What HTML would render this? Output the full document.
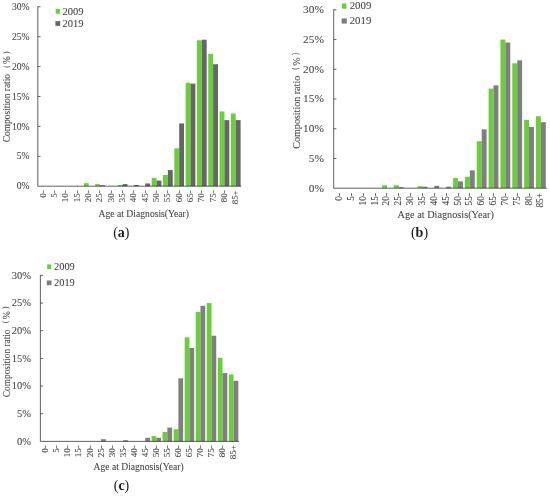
<!DOCTYPE html>
<html><head><meta charset="utf-8"><title>Figure</title>
<style>
html,body{margin:0;padding:0;background:#fff}
svg{display:block}
text{font-family:"Liberation Serif","Noto Serif CJK SC",serif;fill:#454545;stroke:#454545;stroke-width:0.08px}
.fw{font-family:"Liberation Serif","WenQuanYi Zen Hei","Noto Sans CJK SC",serif}
.cap{font-family:"Liberation Serif",serif;fill:#1a1a1a;stroke:none}
</style></head><body>
<svg width="550" height="497" viewBox="0 0 550 497">
<defs><filter id="soft" x="0" y="0" width="550" height="497" filterUnits="userSpaceOnUse"><feGaussianBlur stdDeviation="0.28"/></filter></defs>
<rect width="550" height="497" fill="#fff"/>
<g filter="url(#soft)">
<g id="chart-a">
<rect x="83.84" y="183.21" width="4.86" height="2.99" fill="#69cf37"/>
<rect x="95.15" y="184.11" width="4.86" height="2.09" fill="#69cf37"/>
<rect x="100.01" y="185.18" width="4.86" height="1.02" fill="#666666"/>
<rect x="117.77" y="185.00" width="4.86" height="1.20" fill="#69cf37"/>
<rect x="122.63" y="184.11" width="4.86" height="2.09" fill="#666666"/>
<rect x="133.94" y="185.00" width="4.86" height="1.20" fill="#666666"/>
<rect x="145.26" y="183.45" width="4.86" height="2.75" fill="#666666"/>
<rect x="151.70" y="177.83" width="4.86" height="8.37" fill="#69cf37"/>
<rect x="156.57" y="180.58" width="4.86" height="5.62" fill="#666666"/>
<rect x="163.01" y="174.90" width="4.86" height="11.30" fill="#69cf37"/>
<rect x="167.88" y="170.05" width="4.86" height="16.15" fill="#666666"/>
<rect x="174.33" y="148.35" width="4.86" height="37.85" fill="#69cf37"/>
<rect x="179.19" y="123.41" width="4.86" height="62.79" fill="#666666"/>
<rect x="185.64" y="82.75" width="4.86" height="103.45" fill="#69cf37"/>
<rect x="190.50" y="83.64" width="4.86" height="102.56" fill="#666666"/>
<rect x="196.95" y="40.29" width="4.86" height="145.91" fill="#69cf37"/>
<rect x="201.81" y="39.69" width="4.86" height="146.51" fill="#666666"/>
<rect x="208.26" y="54.04" width="4.86" height="132.16" fill="#69cf37"/>
<rect x="213.12" y="64.21" width="4.86" height="121.99" fill="#666666"/>
<rect x="219.57" y="111.45" width="4.86" height="74.75" fill="#69cf37"/>
<rect x="224.43" y="120.12" width="4.86" height="66.08" fill="#666666"/>
<rect x="230.88" y="113.54" width="4.86" height="72.66" fill="#69cf37"/>
<rect x="235.74" y="120.12" width="4.86" height="66.08" fill="#666666"/>
<path d="M37.80 6.30V186.20H241.40" fill="none" stroke="#262626" stroke-width="0.72"/>
<text x="29.50" y="189.37" font-size="9.60" text-anchor="end">0%</text>
<path d="M37.80 156.30h2.7" stroke="#262626" stroke-width="0.7" fill="none"/>
<text x="29.50" y="159.47" font-size="9.60" text-anchor="end">5%</text>
<path d="M37.80 126.40h2.7" stroke="#262626" stroke-width="0.7" fill="none"/>
<text x="29.50" y="129.57" font-size="9.60" text-anchor="end">10%</text>
<path d="M37.80 96.50h2.7" stroke="#262626" stroke-width="0.7" fill="none"/>
<text x="29.50" y="99.67" font-size="9.60" text-anchor="end">15%</text>
<path d="M37.80 66.60h2.7" stroke="#262626" stroke-width="0.7" fill="none"/>
<text x="29.50" y="69.77" font-size="9.60" text-anchor="end">20%</text>
<path d="M37.80 36.70h2.7" stroke="#262626" stroke-width="0.7" fill="none"/>
<text x="29.50" y="39.87" font-size="9.60" text-anchor="end">25%</text>
<path d="M37.80 6.80h2.7" stroke="#262626" stroke-width="0.7" fill="none"/>
<text x="29.50" y="9.97" font-size="9.60" text-anchor="end">30%</text>
<text transform="translate(45.86 190.40) rotate(-90)" font-size="8.90" text-anchor="end">0-</text>
<text transform="translate(57.17 190.40) rotate(-90)" font-size="8.90" text-anchor="end">5-</text>
<text transform="translate(68.48 190.40) rotate(-90)" font-size="8.90" text-anchor="end">10-</text>
<text transform="translate(79.79 190.40) rotate(-90)" font-size="8.90" text-anchor="end">15-</text>
<text transform="translate(91.10 190.40) rotate(-90)" font-size="8.90" text-anchor="end">20-</text>
<text transform="translate(102.41 190.40) rotate(-90)" font-size="8.90" text-anchor="end">25-</text>
<text transform="translate(113.73 190.40) rotate(-90)" font-size="8.90" text-anchor="end">30-</text>
<text transform="translate(125.04 190.40) rotate(-90)" font-size="8.90" text-anchor="end">35-</text>
<text transform="translate(136.35 190.40) rotate(-90)" font-size="8.90" text-anchor="end">40-</text>
<text transform="translate(147.66 190.40) rotate(-90)" font-size="8.90" text-anchor="end">45-</text>
<text transform="translate(158.97 190.40) rotate(-90)" font-size="8.90" text-anchor="end">50-</text>
<text transform="translate(170.28 190.40) rotate(-90)" font-size="8.90" text-anchor="end">55-</text>
<text transform="translate(181.59 190.40) rotate(-90)" font-size="8.90" text-anchor="end">60-</text>
<text transform="translate(192.90 190.40) rotate(-90)" font-size="8.90" text-anchor="end">65-</text>
<text transform="translate(204.21 190.40) rotate(-90)" font-size="8.90" text-anchor="end">70-</text>
<text transform="translate(215.53 190.40) rotate(-90)" font-size="8.90" text-anchor="end">75-</text>
<text transform="translate(226.84 190.40) rotate(-90)" font-size="8.90" text-anchor="end">80-</text>
<text transform="translate(238.15 190.40) rotate(-90)" font-size="8.90" text-anchor="end">85+</text>
<rect x="55.75" y="8.90" width="4.10" height="4.80" fill="#69cf37"/>
<text x="62.50" y="14.70" font-size="10.50">2009</text>
<rect x="55.40" y="21.10" width="4.80" height="4.80" fill="#666666"/>
<text x="62.50" y="26.90" font-size="10.50">2019</text>
<text x="98.60" y="217.00" font-size="9.80" textLength="90.40" lengthAdjust="spacingAndGlyphs">Age at Diagnosis(Year)</text>
<text transform="translate(10.30 142.20) rotate(-90)" font-size="9.40" textLength="68.20" lengthAdjust="spacingAndGlyphs">Composition ratio</text>
<text class="fw" transform="translate(9.40 68.57) rotate(-90)" font-size="8.27" text-anchor="middle">（</text>
<text transform="translate(10.30 60.00) rotate(-90)" font-size="9.40" text-anchor="middle">%</text>
<text class="fw" transform="translate(9.40 50.63) rotate(-90)" font-size="8.27" text-anchor="middle">）</text>
<text class="cap" x="121.30" y="236.80" font-size="14" text-anchor="middle">(<tspan font-weight="bold">a</tspan>)</text>
</g>
<g id="chart-b">
<rect x="382.06" y="185.23" width="4.91" height="2.97" fill="#69cf37"/>
<rect x="393.90" y="185.23" width="4.91" height="2.97" fill="#69cf37"/>
<rect x="398.81" y="187.19" width="4.91" height="1.01" fill="#7f7f7f"/>
<rect x="417.58" y="186.12" width="4.91" height="2.08" fill="#69cf37"/>
<rect x="422.49" y="186.71" width="4.91" height="1.49" fill="#7f7f7f"/>
<rect x="434.33" y="185.82" width="4.91" height="2.38" fill="#7f7f7f"/>
<rect x="446.17" y="186.65" width="4.91" height="1.55" fill="#7f7f7f"/>
<rect x="453.10" y="178.09" width="4.91" height="10.11" fill="#69cf37"/>
<rect x="458.01" y="181.36" width="4.91" height="6.84" fill="#7f7f7f"/>
<rect x="464.93" y="176.72" width="4.91" height="11.48" fill="#69cf37"/>
<rect x="469.85" y="170.36" width="4.91" height="17.84" fill="#7f7f7f"/>
<rect x="476.77" y="141.22" width="4.91" height="46.98" fill="#69cf37"/>
<rect x="481.69" y="129.33" width="4.91" height="58.87" fill="#7f7f7f"/>
<rect x="488.61" y="88.59" width="4.91" height="99.61" fill="#69cf37"/>
<rect x="493.52" y="85.32" width="4.91" height="102.88" fill="#7f7f7f"/>
<rect x="500.45" y="39.53" width="4.91" height="148.67" fill="#69cf37"/>
<rect x="505.36" y="42.51" width="4.91" height="145.69" fill="#7f7f7f"/>
<rect x="512.29" y="63.32" width="4.91" height="124.88" fill="#69cf37"/>
<rect x="517.20" y="60.35" width="4.91" height="127.85" fill="#7f7f7f"/>
<rect x="524.13" y="119.81" width="4.91" height="68.39" fill="#69cf37"/>
<rect x="529.04" y="126.95" width="4.91" height="61.25" fill="#7f7f7f"/>
<rect x="535.97" y="116.25" width="4.91" height="71.95" fill="#69cf37"/>
<rect x="540.88" y="122.19" width="4.91" height="66.01" fill="#7f7f7f"/>
<path d="M333.70 9.30V188.20H546.80" fill="none" stroke="#262626" stroke-width="0.72"/>
<text x="323.80" y="191.53" font-size="11.30" text-anchor="end">0%</text>
<path d="M333.70 158.47h2.7" stroke="#262626" stroke-width="0.7" fill="none"/>
<text x="323.80" y="161.80" font-size="11.30" text-anchor="end">5%</text>
<path d="M333.70 128.73h2.7" stroke="#262626" stroke-width="0.7" fill="none"/>
<text x="323.80" y="132.07" font-size="11.30" text-anchor="end">10%</text>
<path d="M333.70 99.00h2.7" stroke="#262626" stroke-width="0.7" fill="none"/>
<text x="323.80" y="102.33" font-size="11.30" text-anchor="end">15%</text>
<path d="M333.70 69.27h2.7" stroke="#262626" stroke-width="0.7" fill="none"/>
<text x="323.80" y="72.60" font-size="11.30" text-anchor="end">20%</text>
<path d="M333.70 39.53h2.7" stroke="#262626" stroke-width="0.7" fill="none"/>
<text x="323.80" y="42.87" font-size="11.30" text-anchor="end">25%</text>
<path d="M333.70 9.80h2.7" stroke="#262626" stroke-width="0.7" fill="none"/>
<text x="323.80" y="13.13" font-size="11.30" text-anchor="end">30%</text>
<text transform="translate(342.13 193.00) rotate(-90)" font-size="9.30" text-anchor="end">0-</text>
<text transform="translate(353.97 193.00) rotate(-90)" font-size="9.30" text-anchor="end">5-</text>
<text transform="translate(365.81 193.00) rotate(-90)" font-size="9.30" text-anchor="end">10-</text>
<text transform="translate(377.65 193.00) rotate(-90)" font-size="9.30" text-anchor="end">15-</text>
<text transform="translate(389.49 193.00) rotate(-90)" font-size="9.30" text-anchor="end">20-</text>
<text transform="translate(401.32 193.00) rotate(-90)" font-size="9.30" text-anchor="end">25-</text>
<text transform="translate(413.16 193.00) rotate(-90)" font-size="9.30" text-anchor="end">30-</text>
<text transform="translate(425.00 193.00) rotate(-90)" font-size="9.30" text-anchor="end">35-</text>
<text transform="translate(436.84 193.00) rotate(-90)" font-size="9.30" text-anchor="end">40-</text>
<text transform="translate(448.68 193.00) rotate(-90)" font-size="9.30" text-anchor="end">45-</text>
<text transform="translate(460.52 193.00) rotate(-90)" font-size="9.30" text-anchor="end">50-</text>
<text transform="translate(472.36 193.00) rotate(-90)" font-size="9.30" text-anchor="end">55-</text>
<text transform="translate(484.20 193.00) rotate(-90)" font-size="9.30" text-anchor="end">60-</text>
<text transform="translate(496.04 193.00) rotate(-90)" font-size="9.30" text-anchor="end">65-</text>
<text transform="translate(507.87 193.00) rotate(-90)" font-size="9.30" text-anchor="end">70-</text>
<text transform="translate(519.71 193.00) rotate(-90)" font-size="9.30" text-anchor="end">75-</text>
<text transform="translate(531.55 193.00) rotate(-90)" font-size="9.30" text-anchor="end">80-</text>
<text transform="translate(543.39 193.00) rotate(-90)" font-size="9.30" text-anchor="end">85+</text>
<rect x="341.95" y="3.50" width="4.50" height="5.20" fill="#69cf37"/>
<text x="349.70" y="9.10" font-size="10.80">2009</text>
<rect x="341.60" y="18.40" width="5.20" height="5.20" fill="#7f7f7f"/>
<text x="349.70" y="23.80" font-size="10.80">2019</text>
<text x="397.60" y="218.00" font-size="10.50" textLength="96.30" lengthAdjust="spacingAndGlyphs">Age at Diagnosis(Year)</text>
<text transform="translate(299.50 148.70) rotate(-90)" font-size="10.00" textLength="72.90" lengthAdjust="spacingAndGlyphs">Composition ratio</text>
<text class="fw" transform="translate(298.00 70.80) rotate(-90)" font-size="8.80" text-anchor="middle">（</text>
<text transform="translate(299.50 61.60) rotate(-90)" font-size="10.00" text-anchor="middle">%</text>
<text class="fw" transform="translate(298.00 51.70) rotate(-90)" font-size="8.80" text-anchor="middle">）</text>
<text class="cap" x="419.50" y="236.80" font-size="14" text-anchor="middle">(<tspan font-weight="bold">b</tspan>)</text>
</g>
<g id="chart-c">
<rect x="101.11" y="439.19" width="4.75" height="2.21" fill="#7f7f7f"/>
<rect x="123.19" y="440.18" width="4.75" height="1.22" fill="#7f7f7f"/>
<rect x="145.27" y="437.80" width="4.75" height="3.60" fill="#7f7f7f"/>
<rect x="151.56" y="436.14" width="4.75" height="5.26" fill="#69cf37"/>
<rect x="156.31" y="437.80" width="4.75" height="3.60" fill="#7f7f7f"/>
<rect x="162.60" y="431.99" width="4.75" height="9.41" fill="#69cf37"/>
<rect x="167.35" y="427.57" width="4.75" height="13.83" fill="#7f7f7f"/>
<rect x="173.64" y="429.23" width="4.75" height="12.17" fill="#69cf37"/>
<rect x="178.39" y="378.32" width="4.75" height="63.08" fill="#7f7f7f"/>
<rect x="184.68" y="337.37" width="4.75" height="104.03" fill="#69cf37"/>
<rect x="189.42" y="347.89" width="4.75" height="93.51" fill="#7f7f7f"/>
<rect x="195.72" y="311.92" width="4.75" height="129.48" fill="#69cf37"/>
<rect x="200.46" y="305.83" width="4.75" height="135.57" fill="#7f7f7f"/>
<rect x="206.76" y="303.07" width="4.75" height="138.33" fill="#69cf37"/>
<rect x="211.50" y="335.71" width="4.75" height="105.69" fill="#7f7f7f"/>
<rect x="217.79" y="357.85" width="4.75" height="83.55" fill="#69cf37"/>
<rect x="222.54" y="373.06" width="4.75" height="68.34" fill="#7f7f7f"/>
<rect x="228.83" y="374.45" width="4.75" height="66.95" fill="#69cf37"/>
<rect x="233.58" y="380.81" width="4.75" height="60.59" fill="#7f7f7f"/>
<path d="M40.40 274.90V441.40H239.10" fill="none" stroke="#262626" stroke-width="0.72"/>
<text x="31.00" y="444.60" font-size="10.50" text-anchor="end">0%</text>
<path d="M40.40 413.73h2.7" stroke="#262626" stroke-width="0.7" fill="none"/>
<text x="31.00" y="416.94" font-size="10.50" text-anchor="end">5%</text>
<path d="M40.40 386.07h2.7" stroke="#262626" stroke-width="0.7" fill="none"/>
<text x="31.00" y="389.27" font-size="10.50" text-anchor="end">10%</text>
<path d="M40.40 358.40h2.7" stroke="#262626" stroke-width="0.7" fill="none"/>
<text x="31.00" y="361.60" font-size="10.50" text-anchor="end">15%</text>
<path d="M40.40 330.73h2.7" stroke="#262626" stroke-width="0.7" fill="none"/>
<text x="31.00" y="333.94" font-size="10.50" text-anchor="end">20%</text>
<path d="M40.40 303.07h2.7" stroke="#262626" stroke-width="0.7" fill="none"/>
<text x="31.00" y="306.27" font-size="10.50" text-anchor="end">25%</text>
<path d="M40.40 275.40h2.7" stroke="#262626" stroke-width="0.7" fill="none"/>
<text x="31.00" y="278.60" font-size="10.50" text-anchor="end">30%</text>
<text transform="translate(48.35 445.20) rotate(-90)" font-size="9.00" text-anchor="end">0-</text>
<text transform="translate(59.39 445.20) rotate(-90)" font-size="9.00" text-anchor="end">5-</text>
<text transform="translate(70.43 445.20) rotate(-90)" font-size="9.00" text-anchor="end">10-</text>
<text transform="translate(81.47 445.20) rotate(-90)" font-size="9.00" text-anchor="end">15-</text>
<text transform="translate(92.50 445.20) rotate(-90)" font-size="9.00" text-anchor="end">20-</text>
<text transform="translate(103.54 445.20) rotate(-90)" font-size="9.00" text-anchor="end">25-</text>
<text transform="translate(114.58 445.20) rotate(-90)" font-size="9.00" text-anchor="end">30-</text>
<text transform="translate(125.62 445.20) rotate(-90)" font-size="9.00" text-anchor="end">35-</text>
<text transform="translate(136.66 445.20) rotate(-90)" font-size="9.00" text-anchor="end">40-</text>
<text transform="translate(147.70 445.20) rotate(-90)" font-size="9.00" text-anchor="end">45-</text>
<text transform="translate(158.74 445.20) rotate(-90)" font-size="9.00" text-anchor="end">50-</text>
<text transform="translate(169.78 445.20) rotate(-90)" font-size="9.00" text-anchor="end">55-</text>
<text transform="translate(180.82 445.20) rotate(-90)" font-size="9.00" text-anchor="end">60-</text>
<text transform="translate(191.85 445.20) rotate(-90)" font-size="9.00" text-anchor="end">65-</text>
<text transform="translate(202.89 445.20) rotate(-90)" font-size="9.00" text-anchor="end">70-</text>
<text transform="translate(213.93 445.20) rotate(-90)" font-size="9.00" text-anchor="end">75-</text>
<text transform="translate(224.97 445.20) rotate(-90)" font-size="9.00" text-anchor="end">80-</text>
<text transform="translate(236.01 445.20) rotate(-90)" font-size="9.00" text-anchor="end">85+</text>
<rect x="47.15" y="264.40" width="4.00" height="4.70" fill="#69cf37"/>
<text x="54.00" y="269.70" font-size="10.40">2009</text>
<rect x="46.80" y="280.50" width="4.70" height="4.70" fill="#7f7f7f"/>
<text x="54.00" y="285.80" font-size="10.40">2019</text>
<text x="93.60" y="470.00" font-size="9.80" textLength="90.00" lengthAdjust="spacingAndGlyphs">Age at Diagnosis(Year)</text>
<text transform="translate(9.60 397.20) rotate(-90)" font-size="9.70" textLength="67.70" lengthAdjust="spacingAndGlyphs">Composition ratio</text>
<text class="fw" transform="translate(8.10 324.33) rotate(-90)" font-size="8.54" text-anchor="middle">（</text>
<text transform="translate(9.60 315.20) rotate(-90)" font-size="9.70" text-anchor="middle">%</text>
<text class="fw" transform="translate(8.10 305.57) rotate(-90)" font-size="8.54" text-anchor="middle">）</text>
<text class="cap" x="121.50" y="490.30" font-size="14" text-anchor="middle">(<tspan font-weight="bold">c</tspan>)</text>
</g>
</g>
</svg>
</body></html>
